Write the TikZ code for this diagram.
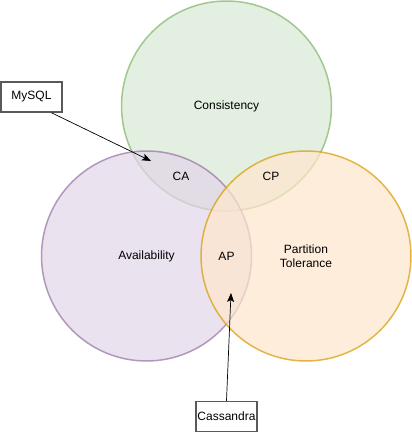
\documentclass[tikz,border=0pt]{standalone}
\usepackage{fontspec}
\setmainfont{Liberation Sans}
\usetikzlibrary{arrows.meta}
\definecolor{cgreen}{HTML}{D5E8D4}
\definecolor{dgreen}{HTML}{82B366}
\definecolor{cpurple}{HTML}{E1D5E7}
\definecolor{dpurple}{HTML}{9673A6}
\definecolor{corange}{HTML}{FFE6CC}
\definecolor{dorange}{HTML}{D79B00}
\tikzset{
  venn/.style={circle,minimum size=210pt,inner sep=0pt,line width=1.5pt,
    opacity=.7,text opacity=1,align=center},
  dbbox/.style={draw=black!65,line width=1.5pt,minimum width=61pt,minimum height=30pt,
    inner sep=0pt,fill=white},
  pointer/.style={-{Stealth[length=9pt,width=7pt,inset=2pt]},line width=.7pt}
}
\begin{document}
\begin{tikzpicture}[x=1pt,y=-1pt,font=\fontsize{12}{14}\selectfont]
\useasboundingbox (0,0) rectangle (412,432);
\node[venn,fill=cgreen,draw=dgreen](C) at(226.5,106){Consistency};
\node[venn,fill=cpurple,draw=dpurple](A) at(146.5,256){Availability};
\node[venn,fill=corange,draw=dorange](P) at(306,256){Partition\\Tolerance};
\node(CA) at(181,176){CA};
\node(CP) at(271,176){CP};
\node(AP) at(226.5,256){AP};
\node[dbbox](mysql) at(31.5,97){MySQL};
\node[dbbox](cassandra) at(226.5,416.5){Cassandra};
\coordinate(mysqlend) at(151,161);
\coordinate(cassandraend) at(231,293);
\draw[pointer](mysql.south)++(20,0) -- (mysqlend);
\draw[pointer](cassandra.north) -- (cassandraend);
\end{tikzpicture}
\end{document}
